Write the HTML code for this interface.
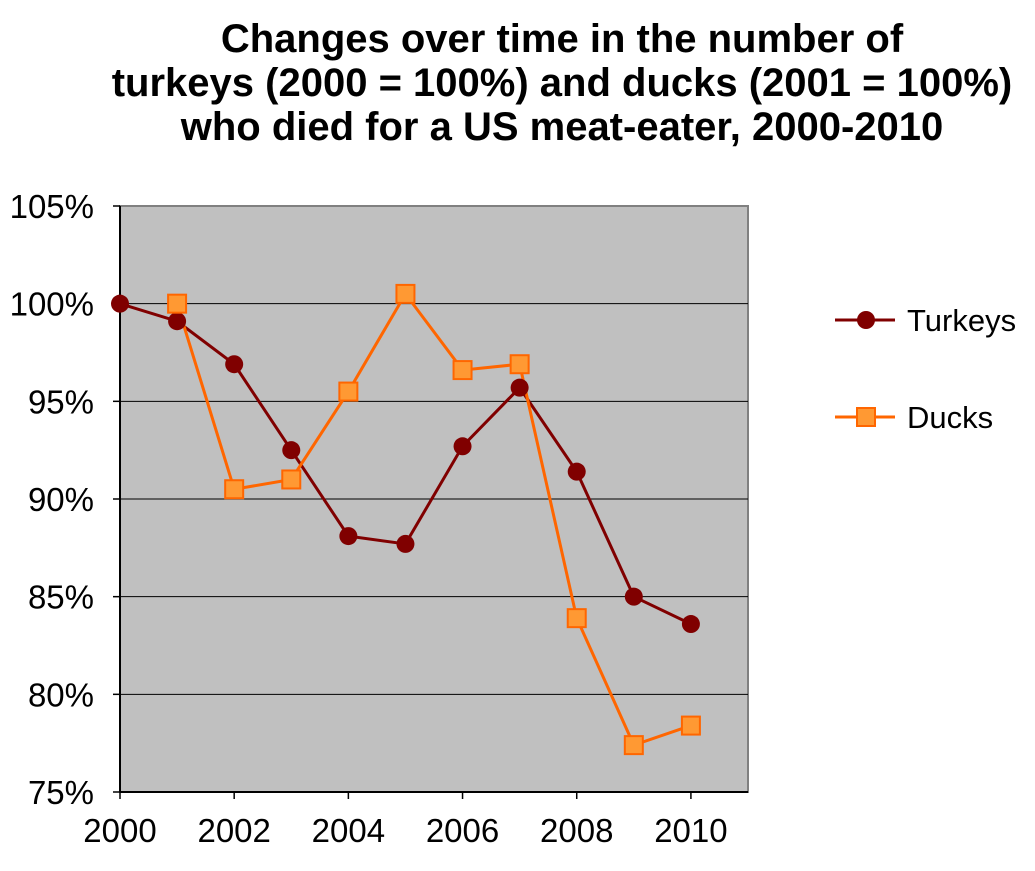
<!DOCTYPE html>
<html><head><meta charset="utf-8"><style>
html,body{margin:0;padding:0;background:#fff;}
svg{display:block;font-family:"Liberation Sans",Arial,sans-serif;}
</style></head><body>
<svg id="chart" width="1035" height="871" viewBox="0 0 1035 871" xmlns="http://www.w3.org/2000/svg">
<g font-size="40" font-weight="bold" text-anchor="middle" fill="#000">
<text x="562" y="52">Changes over time in the number of</text>
<text x="562" y="96">turkeys (2000 = 100%) and ducks (2001 = 100%)</text>
<text x="562" y="140">who died for a US meat-eater, 2000-2010</text>
</g>
<rect x="120" y="206" width="628" height="586" fill="#C0C0C0" stroke="#808080" stroke-width="2"/>
<g id="grid"></g>
<g id="axes"></g>
<g id="series"></g>
<g>
<g>
<line x1="835" y1="320" x2="895" y2="320" stroke="#800000" stroke-width="3"/>
<circle cx="866" cy="320" r="9" fill="#800000"/>
<text x="907" y="331" font-size="31">Turkeys</text>
</g>
<g>
<line x1="835" y1="417" x2="895" y2="417" stroke="#FF6600" stroke-width="3"/>
<rect x="857" y="408" width="18" height="18" fill="#FF9933" stroke="#FF6600" stroke-width="2"/>
<text x="907" y="428" font-size="31">Ducks</text>
</g>
</g>
</svg>
<script>
const years = [2000,2001,2002,2003,2004,2005,2006,2007,2008,2009,2010];
const turkeys = [100,99.1,96.9,92.5,88.1,87.7,92.7,95.7,91.4,85.0,83.6];
const duckYears = [2001,2002,2003,2004,2005,2006,2007,2008,2009,2010];
const ducks = [100,90.5,91.0,95.5,100.5,96.6,96.9,83.9,77.4,78.4];
const yTicks = [75,80,85,90,95,100,105];
const xTicks = [2000,2002,2004,2006,2008,2010];

const NS="http://www.w3.org/2000/svg";
const X0=120,X1=748,Y0=792,Y1=206;
const xs=v=>X0+(v-2000)/(2011-2000)*(X1-X0);
const ys=v=>Y0-(v-75)/(105-75)*(Y0-Y1);
function mk(tag,attrs,parent){const e=document.createElementNS(NS,tag);for(const k in attrs)e.setAttribute(k,attrs[k]);parent.appendChild(e);return e;}
const grid=document.getElementById('grid'),axes=document.getElementById('axes'),series=document.getElementById('series');
yTicks.forEach(t=>{
  const y=ys(t);
  if(t>75&&t<105){const g=mk('line',{x1:X0,x2:X1,y1:y,y2:y,stroke:'#000','stroke-width':1},grid);
  
  }
  const tk=mk('line',{x1:X0-7,x2:X0,y1:y,y2:y,stroke:'#000','stroke-width':1.5},axes);
  
  
  const tx=mk('text',{x:X0-26,y:y+12,'font-size':33,'text-anchor':'end'},axes);
  tx.textContent=t+'%';
  
  
});
xTicks.forEach(t=>{
  const x=xs(t);
  const tk=mk('line',{x1:x,x2:x,y1:Y0,y2:Y0+7,stroke:'#000','stroke-width':1.5},axes);
  
  
  const tx=mk('text',{x:x,y:Y0+50,'font-size':33,'text-anchor':'middle'},axes);
  tx.textContent=t;
  
  
});
const ya=mk('line',{x1:X0,x2:X0,y1:Y1,y2:Y0,stroke:'#000','stroke-width':2},axes);


const xa=mk('line',{x1:X0,x2:X1,y1:Y0,y2:Y0,stroke:'#000','stroke-width':2},axes);



const tl=mk('polyline',{points:years.map((y,i)=>xs(y)+','+ys(turkeys[i])).join(' '),fill:'none',stroke:'#800000','stroke-width':3},series);


const dl=mk('polyline',{points:duckYears.map((y,i)=>xs(y)+','+ys(ducks[i])).join(' '),fill:'none',stroke:'#FF6600','stroke-width':3},series);


years.forEach((y,i)=>{
  const c=mk('circle',{cx:xs(y),cy:ys(turkeys[i]),r:9,fill:'#800000'},series);
  
  
});
duckYears.forEach((y,i)=>{
  const r=mk('rect',{x:xs(y)-9,y:ys(ducks[i])-9,width:18,height:18,fill:'#FF9933',stroke:'#FF6600','stroke-width':2},series);
  
  
});
</script>
</body></html>
